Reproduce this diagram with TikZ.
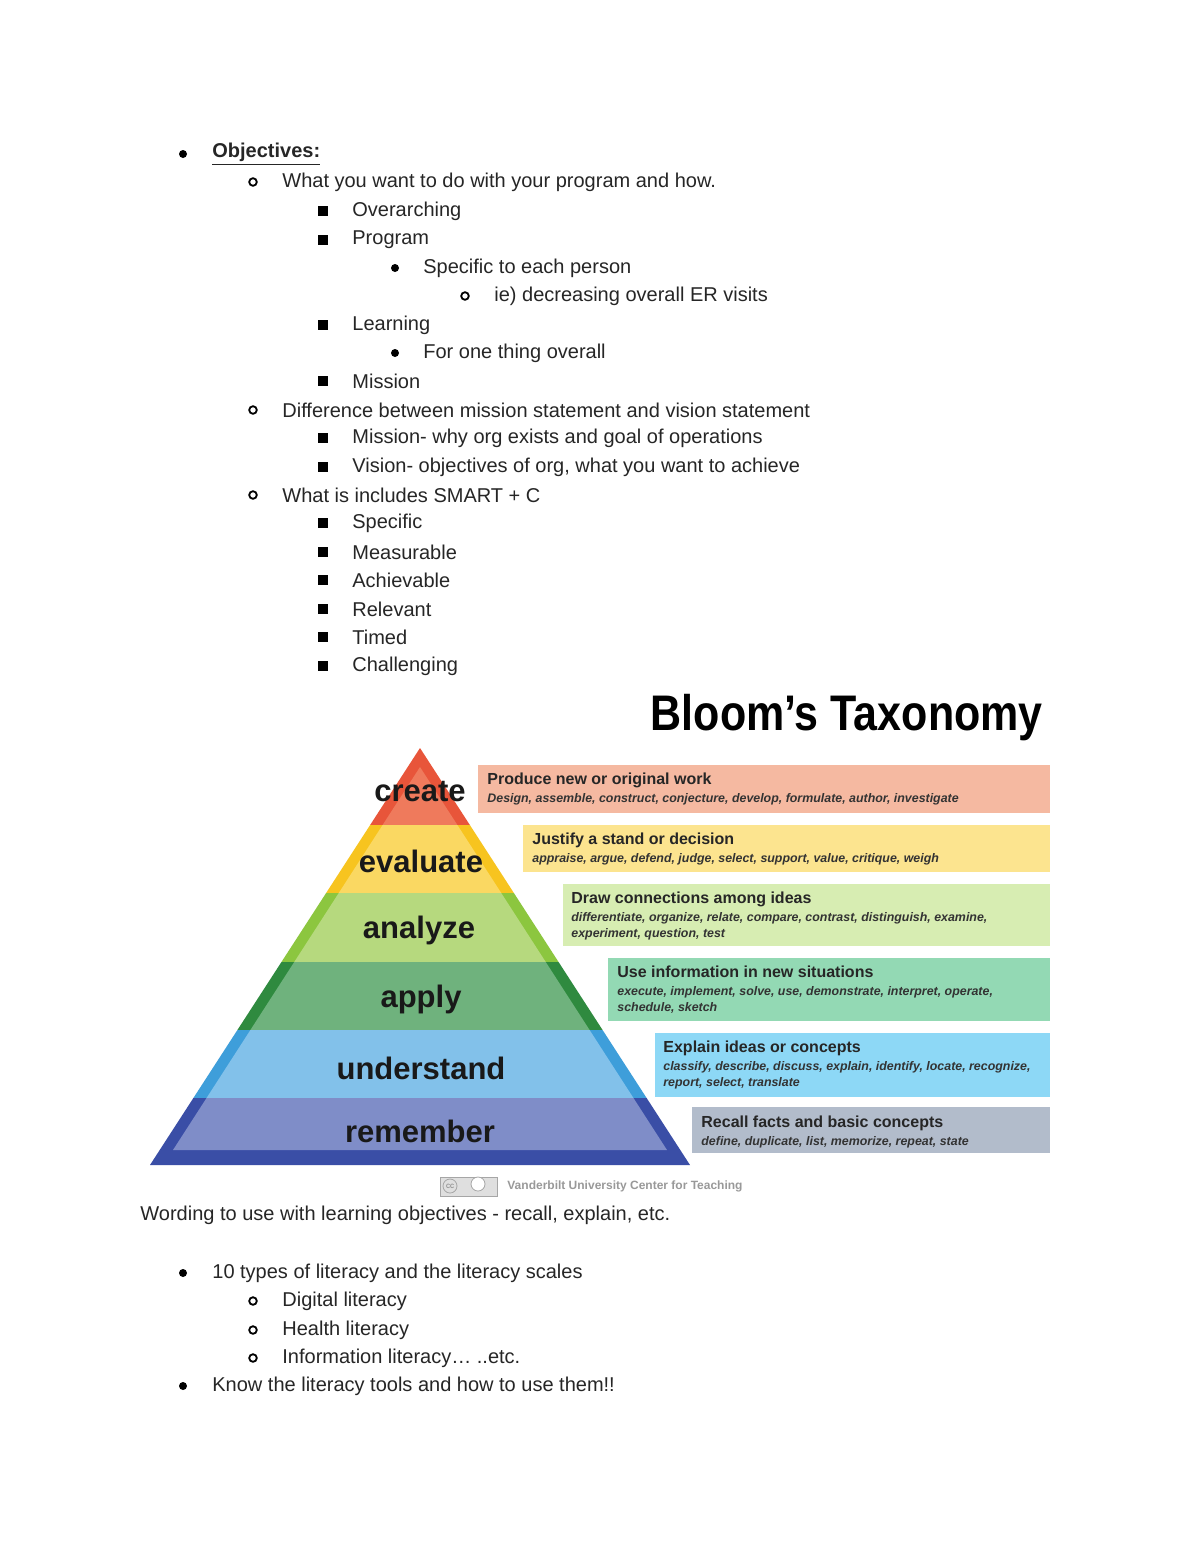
\documentclass[tikz,border=0pt]{standalone}
\usepackage{fontspec}
\setmainfont{Liberation Sans}
\begin{document}
\begin{tikzpicture}[x=0.5pt,y=-0.5pt,
  txt/.style={anchor=west,inner sep=0pt,font=\fontsize{10}{12}\selectfont,text=black!85},
  lbl/.style={font=\bfseries\fontsize{15.5}{16}\selectfont,inner sep=0pt,text=black!90},
  bt/.style={anchor=north west,inner sep=0pt,font=\bfseries\fontsize{8}{9}\selectfont,text=black!85},
  bs/.style={anchor=north west,inner sep=0pt,align=left,font=\bfseries\itshape\fontsize{6.2}{8}\selectfont,text=black!80}]
\useasboundingbox (0,0) rectangle (1200,1553);
\fill[white] (0,0) rectangle (1200,1553);
\def\lone#1#2#3{\fill (183,#2) circle (4); \node[txt] (#1) at (212,#2) {#3};}
\def\ltwo#1#2#3{\draw[line width=0.9pt] (253,#2) circle (3.8); \node[txt] (#1) at (282,#2) {#3};}
\def\lthr#1#2#3{\fill (318,#2-5) rectangle (328,#2+5); \node[txt] (#1) at (352,#2) {#3};}
\def\lfour#1#2#3{\fill (395,#2) circle (4); \node[txt] (#1) at (423,#2) {#3};}
\def\lfive#1#2#3{\draw[line width=0.9pt] (465,#2) circle (3.8); \node[txt] (#1) at (494,#2) {#3};}
\lone{t1}{154}{\textbf{\underline{Objectives:}}}
\ltwo{t2}{182}{What you want to do with your program and how.}
\lthr{t3}{211}{Overarching}
\lthr{t4}{240}{Program}
\lfour{t5}{268}{Specific to each person}
\lfive{t6}{296}{ie) decreasing overall ER visits}
\lthr{t7}{325}{Learning}
\lfour{t8}{353}{For one thing overall}
\lthr{t9}{381}{Mission}
\ltwo{t10}{410}{Difference between mission statement and vision statement}
\lthr{t11}{438}{Mission- why org exists and goal of operations}
\lthr{t12}{467}{Vision- objectives of org, what you want to achieve}
\ltwo{t13}{495}{What is includes SMART + C}
\lthr{t14}{523}{Specific}
\lthr{t15}{552}{Measurable}
\lthr{t16}{580}{Achievable}
\lthr{t17}{609}{Relevant}
\lthr{t18}{637}{Timed}
\lthr{t19}{666}{Challenging}
\node[txt] (w) at (140,1215) {Wording to use with learning objectives - recall, explain, etc.};
\lone{b1}{1273}{10 types of literacy and the literacy scales}
\ltwo{b2}{1301}{Digital literacy}
\ltwo{b3}{1330}{Health literacy}
\ltwo{b4}{1358}{Information literacy… ..etc.}
\lone{b5}{1386}{Know the literacy tools and how to use them!!}
\node[anchor=east,inner sep=0pt,font=\bfseries\fontsize{25}{26}\selectfont,xscale=0.86] (title) at (1043,718) {Bloom’s Taxonomy};
\definecolor{cD}{HTML}{E8553A}\definecolor{cL}{HTML}{EF7A5C}
\definecolor{eD}{HTML}{F7C41F}\definecolor{eL}{HTML}{FAD862}
\definecolor{aD}{HTML}{8CC63F}\definecolor{aL}{HTML}{B6D97E}
\definecolor{pD}{HTML}{2F8A3F}\definecolor{pL}{HTML}{6FB27D}
\definecolor{uD}{HTML}{3E9EDA}\definecolor{uL}{HTML}{82C1EA}
\definecolor{rD}{HTML}{3A4EA6}\definecolor{rL}{HTML}{7F8DC8}
\definecolor{cB}{HTML}{F5B9A1}\definecolor{eB}{HTML}{FCE48F}
\definecolor{aB}{HTML}{D7EDB2}\definecolor{pB}{HTML}{93D9B4}
\definecolor{uB}{HTML}{8DD8F6}\definecolor{rB}{HTML}{B2BCCB}
\begin{scope}
\clip (420,748) -- (690,1165) -- (150,1165) -- cycle;
\fill[cD] (100,740) rectangle (720,825);
\fill[eD] (100,825) rectangle (720,893);
\fill[aD] (100,893) rectangle (720,962);
\fill[pD] (100,962) rectangle (720,1030);
\fill[uD] (100,1030) rectangle (720,1098);
\fill[rD] (100,1098) rectangle (720,1170);
\end{scope}
\begin{scope}
\clip (420,767) -- (667,1150) -- (173,1150) -- cycle;
\fill[cL] (100,740) rectangle (720,825);
\fill[eL] (100,825) rectangle (720,893);
\fill[aL] (100,893) rectangle (720,962);
\fill[pL] (100,962) rectangle (720,1030);
\fill[uL] (100,1030) rectangle (720,1098);
\fill[rL] (100,1098) rectangle (720,1170);
\end{scope}
\node[lbl] (create) at (420,792) {create};
\node[lbl] (evaluate) at (421,861) {evaluate};
\node[lbl] (analyze) at (419,930) {analyze};
\node[lbl] (apply) at (421,999) {apply};
\node[lbl] (understand) at (421,1068) {understand};
\node[lbl] (remember) at (420,1131) {remember};
\fill[cB] (478,765) rectangle (1050,813);
\fill[eB] (523,825) rectangle (1050,872);
\fill[aB] (563,884) rectangle (1050,946);
\fill[pB] (608,958) rectangle (1050,1021);
\fill[uB] (655,1033) rectangle (1050,1097);
\fill[rB] (692,1107) rectangle (1050,1153);
\node[bt] (ct) at (487,772) {Produce new or original work};
\node[bs] (cs) at (487,793) {Design, assemble, construct, conjecture, develop, formulate, author, investigate};
\node[bt] (et) at (532,832) {Justify a stand or decision};
\node[bs] (es) at (532,853) {appraise, argue, defend, judge, select, support, value, critique, weigh};
\node[bt] (at) at (571,891) {Draw connections among ideas};
\node[bs] (as) at (571,912) {differentiate, organize, relate, compare, contrast, distinguish, examine,\\experiment, question, test};
\node[bt] (pt) at (617,965) {Use information in new situations};
\node[bs] (ps) at (617,986) {execute, implement, solve, use, demonstrate, interpret, operate,\\schedule, sketch};
\node[bt] (ut) at (663,1040) {Explain ideas or concepts};
\node[bs] (us) at (663,1061) {classify, describe, discuss, explain, identify, locate, recognize,\\report, select, translate};
\node[bt] (rt) at (701,1115) {Recall facts and basic concepts};
\node[bs] (rs) at (701,1136) {define, duplicate, list, memorize, repeat, state};
\draw[gray!70,fill=gray!25] (440,1177) rectangle (497,1196);
\node[draw=gray!70,circle,inner sep=0pt,minimum size=7pt,font=\fontsize{4}{4}\selectfont,text=gray] (cc) at (450,1186) {cc};
\node[draw=gray!70,circle,inner sep=0pt,minimum size=7pt,fill=white] (by) at (478,1184) {};
\node[anchor=west,inner sep=0pt,font=\bfseries\fontsize{6}{7}\selectfont,text=gray!80] (van) at (507,1186) {Vanderbilt University Center for Teaching};
\end{tikzpicture}
\end{document}
